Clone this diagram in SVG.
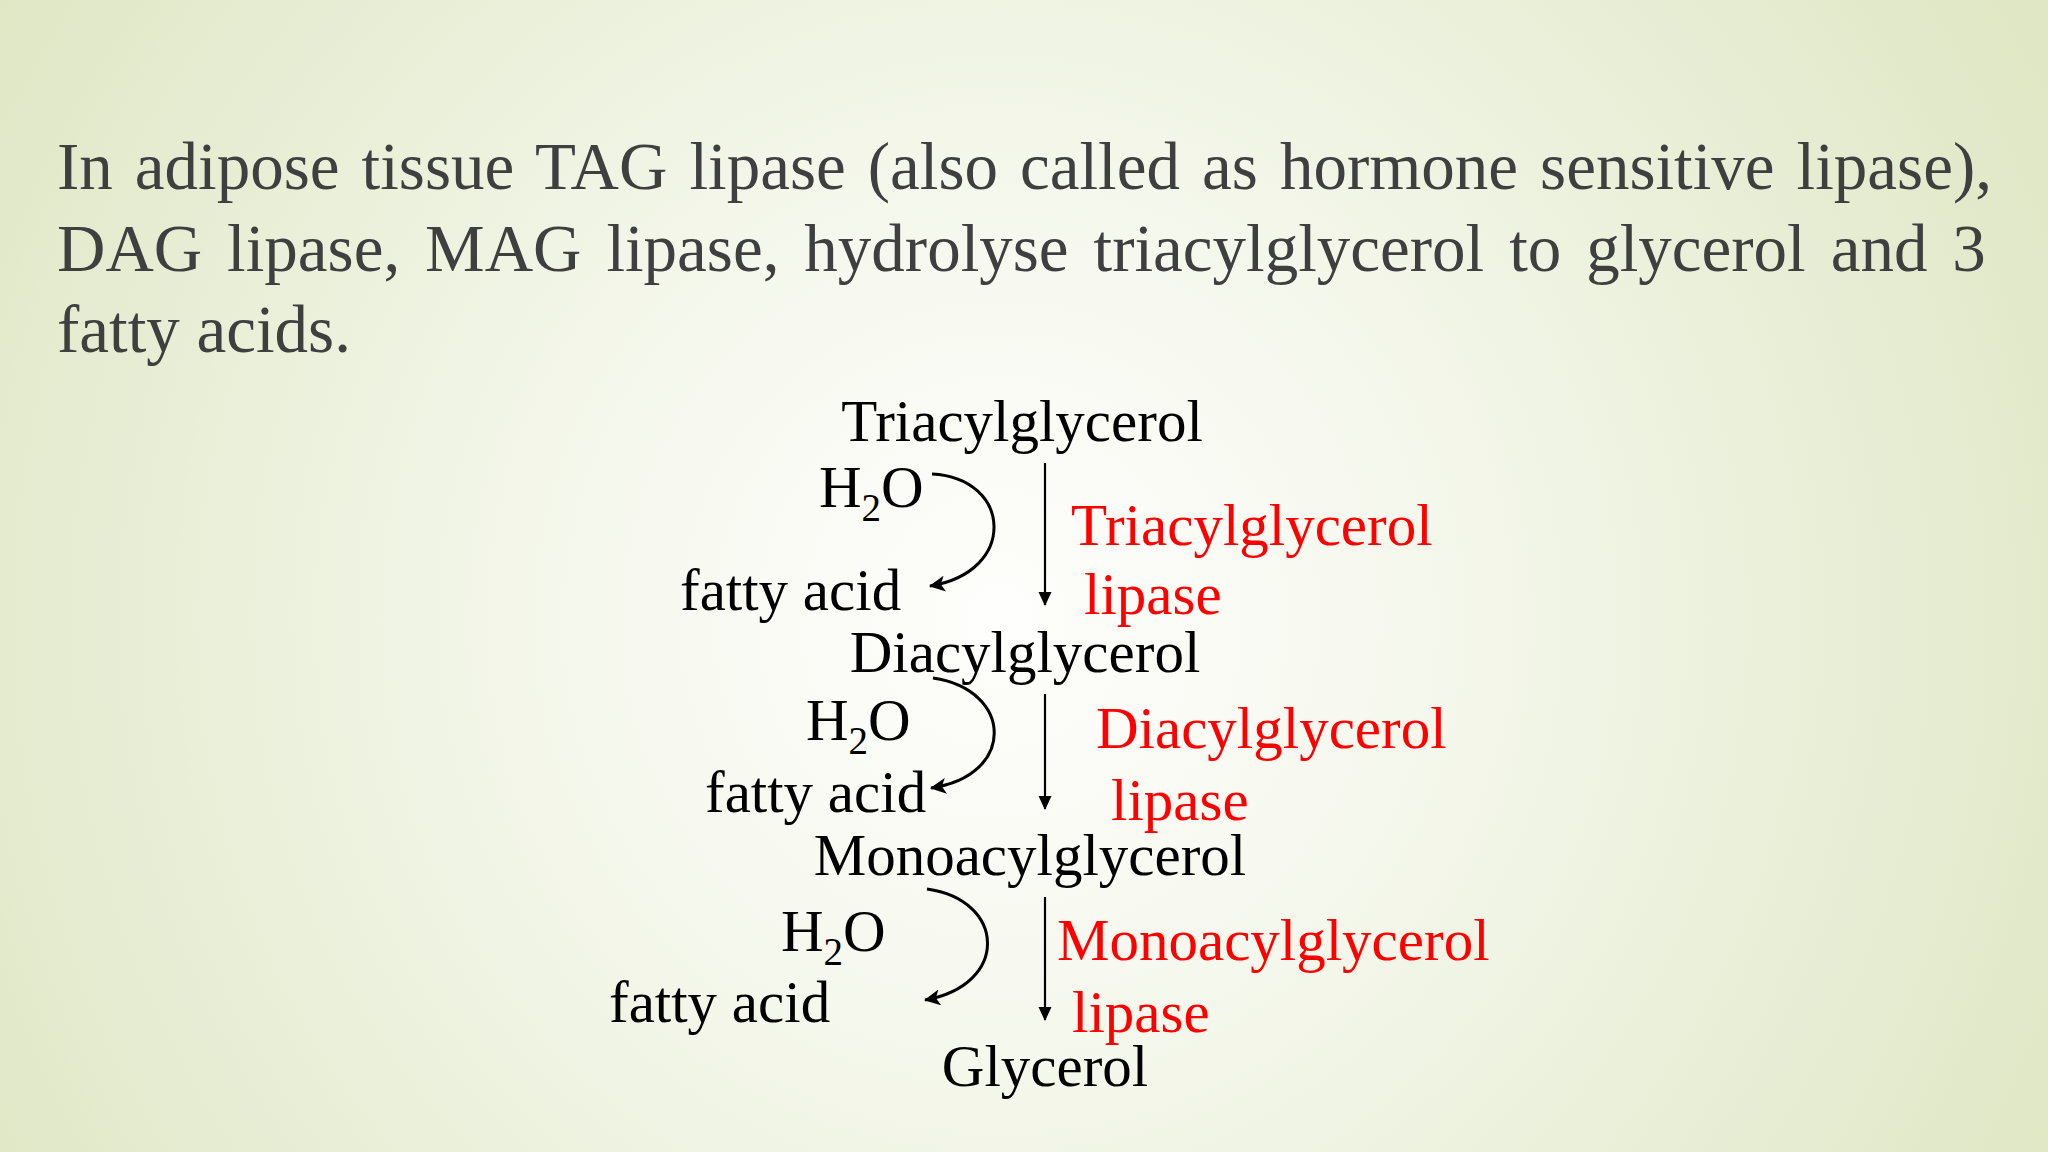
<svg xmlns="http://www.w3.org/2000/svg" width="2048" height="1152" viewBox="0 0 2048 1152">
  <defs>
    <radialGradient id="bg" gradientUnits="userSpaceOnUse" cx="1000" cy="620" r="1180">
      <stop offset="0" stop-color="#fefefc"/>
      <stop offset="0.3" stop-color="#f7f9f0"/>
      <stop offset="1" stop-color="#dfe7c5"/>
    </radialGradient>
    <marker id="vhead" viewBox="0 0 14 14" refX="13" refY="7" markerWidth="14" markerHeight="14" markerUnits="userSpaceOnUse" orient="auto">
      <path d="M0,0.5 L14,7 L0,13.5 Z" fill="#000"/>
    </marker>
    <marker id="chead" viewBox="0 0 16 16" refX="15" refY="8" markerWidth="16" markerHeight="16" markerUnits="userSpaceOnUse" orient="auto">
      <path d="M0,0 L16,8 L0,16 L4,8 Z" fill="#000"/>
    </marker>
    <style>
      .title { font-family: "Liberation Serif", "Times New Roman", serif; font-size: 67px; fill: #3f3f3f; }
      .lbl { font-family: "Liberation Serif", "Times New Roman", serif; font-size: 59px; fill: #000; }
      .enz { font-family: "Liberation Serif", "Times New Roman", serif; font-size: 59px; fill: #ff0000; }
      .sub { font-size: 39px; }
      .mid { text-anchor: middle; }
      .vline { stroke: #000; stroke-width: 2.2; fill: none; marker-end: url(#vhead); }
      .curve { stroke: #000; stroke-width: 3; fill: none; marker-end: url(#chead); }
    </style>
  </defs>
  <rect width="2048" height="1152" fill="url(#bg)"/>

  <g id="title">
    <text class="title" x="57" y="189" word-spacing="5.3">In adipose tissue TAG lipase (also called as hormone sensitive lipase),</text>
    <text class="title" x="57" y="271" word-spacing="8.2">DAG lipase, MAG lipase, hydrolyse triacylglycerol to glycerol and 3</text>
    <text class="title" x="57" y="352">fatty acids.</text>
  </g>

  <g id="connectors">
    <line class="vline" x1="1045" y1="463" x2="1045" y2="605"/>
    <line class="vline" x1="1045" y1="694" x2="1045" y2="809"/>
    <line class="vline" x1="1045" y1="897" x2="1045" y2="1020"/>
    <path class="curve" d="M932,474 C1012,478 1018,572 930,586"/>
    <path class="curve" d="M933,678 C1014,690 1016,776 931,788"/>
    <path class="curve" d="M927,889 C1006,900 1010,985 925,1000"/>
  </g>

  <g id="tag"><text class="lbl mid" x="1022" y="441">Triacylglycerol</text></g>
  <g id="dag"><text class="lbl mid" x="1025" y="672">Diacylglycerol</text></g>
  <g id="mag"><text class="lbl mid" x="1030" y="875">Monoacylglycerol</text></g>
  <g id="glycerol"><text class="lbl mid" x="1045" y="1086">Glycerol</text></g>

  <g id="h2o-1"><text class="lbl" x="819" y="507">H<tspan class="sub" dy="14">2</tspan><tspan dy="-14">O</tspan></text></g>
  <g id="h2o-2"><text class="lbl" x="806" y="740">H<tspan class="sub" dy="14">2</tspan><tspan dy="-14">O</tspan></text></g>
  <g id="h2o-3"><text class="lbl" x="781" y="951">H<tspan class="sub" dy="14">2</tspan><tspan dy="-14">O</tspan></text></g>

  <g id="fa-1"><text class="lbl" x="680" y="610">fatty acid</text></g>
  <g id="fa-2"><text class="lbl" x="705" y="812">fatty acid</text></g>
  <g id="fa-3"><text class="lbl" x="609" y="1022">fatty acid</text></g>

  <g id="enzyme-1">
    <text class="enz" x="1071" y="545">Triacylglycerol</text>
    <text class="enz" x="1084" y="614">lipase</text>
  </g>
  <g id="enzyme-2">
    <text class="enz" x="1096" y="748">Diacylglycerol</text>
    <text class="enz" x="1111" y="820">lipase</text>
  </g>
  <g id="enzyme-3">
    <text class="enz" x="1057" y="960">Monoacylglycerol</text>
    <text class="enz" x="1072" y="1032">lipase</text>
  </g>
</svg>
